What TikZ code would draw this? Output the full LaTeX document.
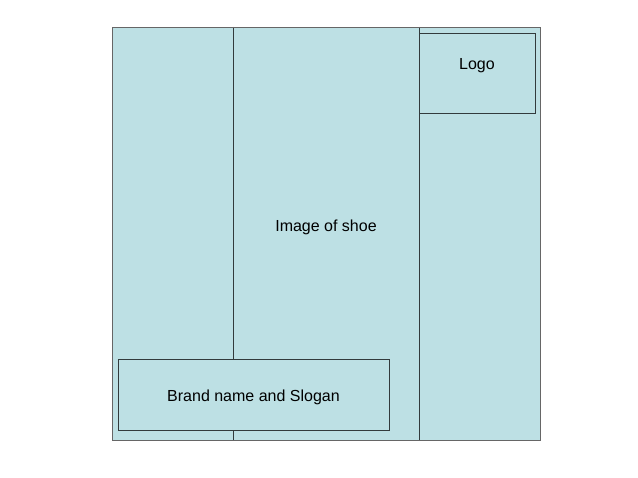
\documentclass[tikz,border=0pt]{standalone}
\usepackage{fontspec}
\setmainfont{Liberation Sans}
\definecolor{panel}{RGB}{189,224,228}
\definecolor{edge}{RGB}{50,58,60}
\begin{document}
\begin{tikzpicture}[x=1pt,y=-1pt,
  panelbox/.style={draw=edge,fill=panel,line width=0.8pt},
  lbl/.style={font=\fontsize{16}{19}\selectfont,inner sep=0pt}]
\useasboundingbox (0,0) rectangle (638,478);
\fill[white] (0,0) rectangle (638,478);
\fill[panel] (112,27) rectangle (540,440);
\draw[edge,line width=0.8pt] (233,27) -- (233,440);
\draw[edge,line width=0.8pt] (419,27) -- (419,440);
\draw[draw=gray!80!black,line width=0.9pt] (112,27) rectangle (540,440);
\node[panelbox,minimum width=116pt,minimum height=80pt,anchor=north west] (logo) at (419,33) {};
\node[panelbox,minimum width=271pt,minimum height=71pt,anchor=north west] (brand) at (118,359) {};
\node[lbl] (logotxt) at (477,66) {Logo};
\node[lbl] (shoe) at (326,227) {Image of shoe};
\node[lbl] (brandtxt) at (253.5,397.5) {Brand name and Slogan};
\end{tikzpicture}
\end{document}
